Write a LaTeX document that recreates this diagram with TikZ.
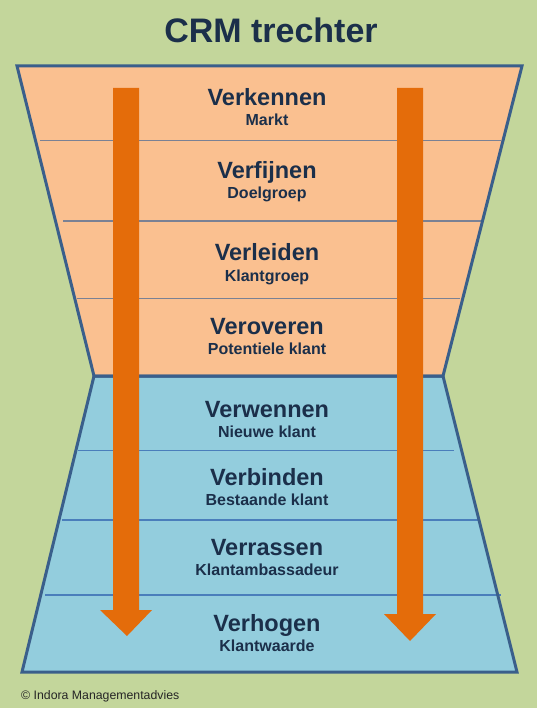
\documentclass[tikz,border=0pt]{standalone}
\usepackage{fontspec}
\setmainfont{Liberation Sans}
\usepackage{xcolor}
\usetikzlibrary{positioning}

\definecolor{bggreen}{HTML}{C3D69B}
\definecolor{peach}{HTML}{FAC090}
\definecolor{paleblue}{HTML}{93CDDD}
\definecolor{edgeblue}{HTML}{3A5F8B}
\definecolor{lineblue}{HTML}{4A7EBB}
\definecolor{linegrey}{HTML}{7A8194}
\definecolor{arroworange}{HTML}{E46C0A}
\definecolor{navytext}{HTML}{1B2F4A}

\begin{document}
\begin{tikzpicture}[x=1pt,y=-1pt,
    funnelborder/.style={draw=edgeblue,line width=3pt,line join=miter},
    divider/.style={line width=1.2pt},
    flowarrow/.style={fill=arroworange},
    stagetitle/.style={anchor=base,inner sep=0pt,text=navytext,font=\fontsize{23.5}{26}\selectfont\bfseries},
    stagesub/.style={anchor=base,inner sep=0pt,text=navytext,font=\fontsize{16}{18}\selectfont\bfseries}]

        % ==========================================
        % Background and title
        % ==========================================
        \fill[bggreen] (0,0) rectangle (537,708);
        \useasboundingbox (0,0) rectangle (537,708);
        \node[anchor=base,inner sep=0pt,text=navytext,font=\fontsize{34}{40}\selectfont\bfseries] (title) at (271,43) {CRM trechter};

        % ==========================================
        % Funnel (two trapezoids)
        % ==========================================
        \coordinate (tl) at (17,66);
        \coordinate (tr) at (522,66);
        \coordinate (wl) at (94,376);
        \coordinate (wr) at (443,376);
        \coordinate (bl) at (22,672);
        \coordinate (br) at (517,672);

        \fill[peach] (tl) -- (tr) -- (wr) -- (wl) -- cycle;
        \fill[paleblue] (wl) -- (wr) -- (br) -- (bl) -- cycle;

        % Dividers between the stages
        \foreach \yy/\xa/\xb in {140.5/40/501, 221/63/481, 298.5/77/460}
            \draw[divider,linegrey] (\xa,\yy) -- (\xb,\yy);
        \foreach \yy/\xa/\xb in {450.5/78/454, 520/62/480, 595/45/501}
            \draw[divider,lineblue] (\xa,\yy) -- (\xb,\yy);

        \draw[funnelborder] (tl) -- (tr) -- (wr) -- (wl) -- cycle;
        \draw[funnelborder] (wl) -- (wr) -- (br) -- (bl) -- cycle;

        % ==========================================
        % Downward arrows
        % ==========================================
        \fill[flowarrow] (113,88) -- (139,88) -- (139,610) -- (152,610) -- (127,636)
              -- (100,610) -- (113,610) -- cycle;
        \fill[flowarrow] (397,88) -- (423,88) -- (423,614) -- (436,614) -- (410,641)
              -- (384,614) -- (397,614) -- cycle;

        % ==========================================
        % Stages
        % ==========================================
        \foreach \stage/\main/\sub/\yb in {verkennen/Verkennen/Markt/106,
                verfijnen/Verfijnen/Doelgroep/179,
                verleiden/Verleiden/Klantgroep/261,
                veroveren/Veroveren/Potentiele klant/334,
                verwennen/Verwennen/Nieuwe klant/417,
                verbinden/Verbinden/Bestaande klant/485,
                verrassen/Verrassen/Klantambassadeur/555,
                verhogen/Verhogen/Klantwaarde/631} {
            \node[stagetitle] (\stage) at (267,\yb) {\main};
            \node[stagesub] (\stage-sub) at (267,\yb+20) {\sub};
        }

        % Credit line
        \node[anchor=base west,inner sep=0pt,text=black!85,font=\fontsize{12.3}{14}\selectfont] (credit) at (21,699) {© Indora Managementadvies};

\end{tikzpicture}
\end{document}
